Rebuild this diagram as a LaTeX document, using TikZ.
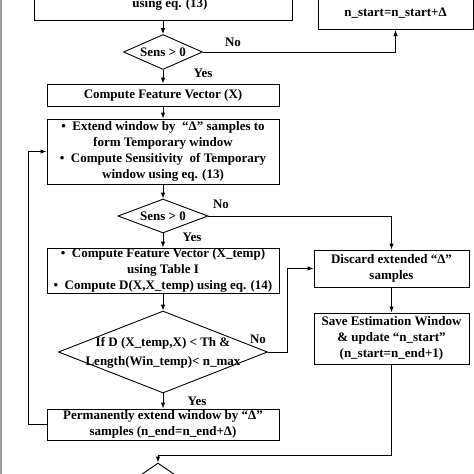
\documentclass[tikz,border=0pt]{standalone}
\usepackage{fontspec}
\setmainfont{Liberation Serif}
\usetikzlibrary{arrows.meta,shapes.geometric}
\begin{document}
\begin{tikzpicture}[x=1pt,y=-1pt,
  every node/.style={font=\bfseries\fontsize{13}{16}\selectfont},
  box/.style={draw, line width=0.9pt, inner sep=0pt, align=center},
  dia/.style={draw, diamond, line width=0.9pt, inner sep=0pt},
  txt/.style={inner sep=0pt, align=center},
  lab/.style={inner sep=0pt},
  arr/.style={line width=0.9pt, -{Latex[length=6pt,width=4.5pt]}},
  ln/.style={line width=0.9pt}]
\useasboundingbox (0,0) rectangle (474,474);
\fill[white] (0,0) rectangle (474,474);
\clip (0,0) rectangle (474,474);
\fill[gray!75] (0,0) rectangle (2.4,474);

% top boxes (cut off)
\node[box, minimum width=258pt, minimum height=80pt, anchor=south] (top) at (163,21) {};
\node[txt] (toptxt) at (170,4.5) {using eq. (13)};
\node[box, minimum width=155pt, minimum height=80pt, anchor=south] (topr) at (395.5,30) {};
\node[txt] (toprtxt) at (395.5,13) {n\_start=n\_start+Δ};

% diamond 1
\node[dia, minimum width=79pt, minimum height=35pt] (d1) at (163,52) {};
\node[txt] (d1t) at (163,52) {Sens > 0};

\node[box, minimum width=232pt, minimum height=22pt] (f1) at (163,95) {Compute Feature Vector (X)};

\node[box, minimum width=232pt, minimum height=65pt] (ext) at (163,151.5)
  {\textbullet\ \ Extend window by \ “Δ” samples to\\form Temporary window\\\textbullet\ \ Compute Sensitivity \ of Temporary\\window using eq. (13)};

\node[dia, minimum width=90pt, minimum height=34pt] (d2) at (163,216) {};
\node[txt] (d2t) at (163,216) {Sens > 0};

\node[box, minimum width=232pt, minimum height=45pt] (ft) at (163,270.5)
  {\textbullet\ \ Compute Feature Vector (X\_temp)\\using Table I\\\textbullet\ \ Compute D(X,X\_temp) using eq. (14)};

\node[box, minimum width=155pt, minimum height=37pt] (disc) at (391.5,268.5)
  {Discard extended “Δ”\\samples};

\node[dia, minimum width=209pt, minimum height=82pt] (d3) at (163,352) {};
\node[txt, font=\bfseries\fontsize{13}{19}\selectfont] (d3t) at (163,352.5)
  {If D (X\_temp,X) < Th \&\\Length(Win\_temp)< n\_max};

\node[box, minimum width=232pt, minimum height=31pt] (perm) at (163,424.5)
  {Permanently extend window by “Δ”\\samples (n\_end=n\_end+Δ)};

\node[box, minimum width=155pt, minimum height=51pt] (save) at (391.5,338.5)
  {Save Estimation Window\\\& update “n\_start”\\(n\_start=n\_end+1)};

\node[dia, minimum width=90pt, minimum height=62pt] (d4) at (158,494) {};

% connectors
\draw[arr] (top.south -| d1.north) -- (d1.north);
\draw[arr] (d1.east) -| (topr.south);
\node[lab] (no1) at (233,42) {No};
\draw[arr] (d1.south) -- (f1.north);
\node[lab] (yes1) at (203,73) {Yes};
\draw[arr] (f1.south) -- (ext.north);
\draw[arr] (ext.south) -- (d2.north);
\draw[arr] (d2.east) -| (disc.north);
\node[lab] (no2) at (221,204) {No};
\draw[arr] (d2.south) -- (ft.north);
\node[lab] (yes2) at (192,237) {Yes};
\draw[arr] (ft.south) -- (d3.north);
\draw[arr] (d3.east) -- ++(19,0) |- (disc.west);
\node[lab] (no3) at (258,339) {No};
\draw[arr] (d3.south) -- (perm.north);
\node[lab] (yes3) at (197,401) {Yes};
\draw[arr] (perm.west) -- ++(-18,0) |- (ext.west);
\draw[arr] (disc.south) -- (save.north);
\draw[arr] (save.south) -- ++(0,91) -| (d4.north);
\end{tikzpicture}
\end{document}
